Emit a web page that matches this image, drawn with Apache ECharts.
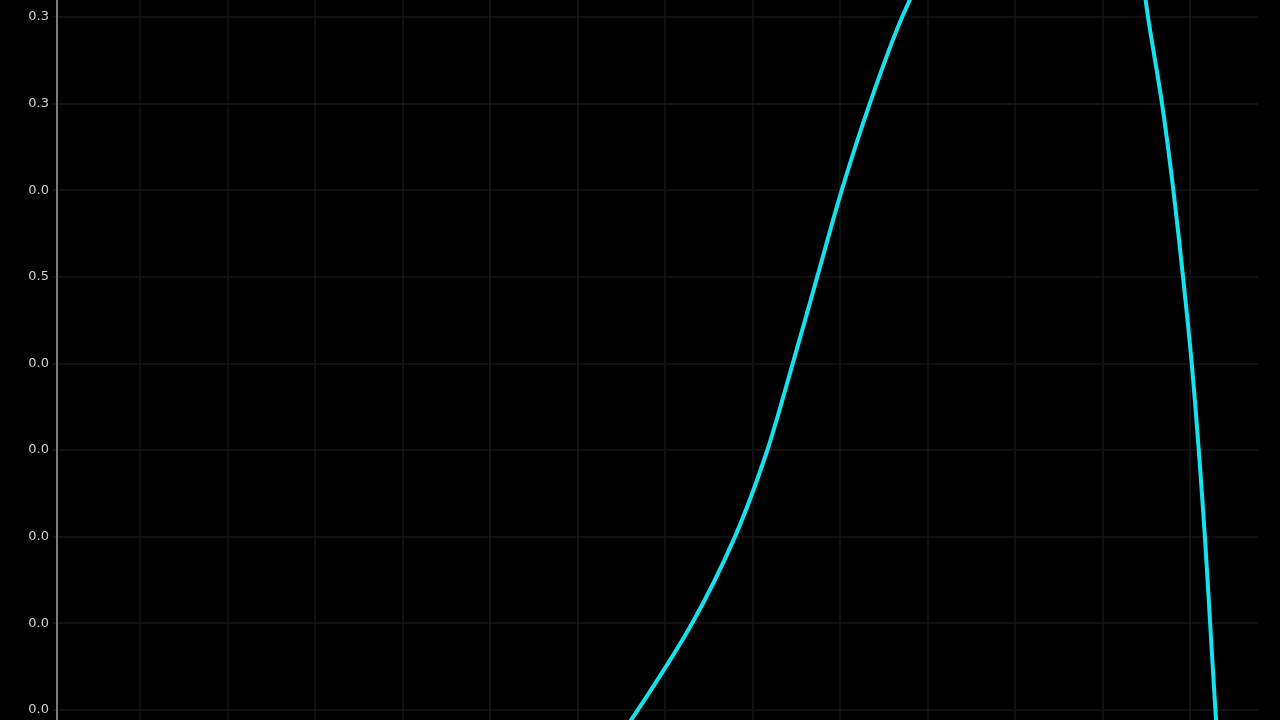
<!DOCTYPE html>
<html>
<head>
<meta charset="utf-8">
<script src="https://cdn.jsdelivr.net/npm/echarts@6/dist/echarts.min.js"></script>
<style>
html,body{margin:0;padding:0;background:#000;}
#chart{width:1280px;height:720px;}
</style>
</head>
<body>
<div id="chart"></div>
<script>
// x positions (axis units) and curve values (axis units)
const curveX = [6.0, 6.69, 7.31, 7.80, 8.17, 8.46, 8.74, 9.02, 9.34, 9.71, 10.2, 10.8, 11.5, 12.15, 12.38, 12.52, 12.68, 12.81, 12.92, 13.02, 13.10, 13.17, 13.23, 13.29, 13.36];
const curveY = [-1, 0, 1, 2, 3, 4, 5, 6, 7, 8, 9.0, 10.0, 10.6, 10.0, 9.0, 8, 7, 6, 5, 4, 3, 2, 1, 0, -1];
// y tick labels for tick values -1..9
const yTickValues = [-1, 0, 1, 2, 3, 4, 5, 6, 7, 8, 9];
const yTickLabels = ["0.0", "0.0", "0.0", "0.0", "0.0", "0.0", "0.5", "0.0", "0.3", "0.3", "0.3"];

const chart = echarts.init(document.getElementById('chart'));
chart.setOption({
  backgroundColor: '#000000',
  animation: false,
  grid: { left: 52.5, right: 22, top: -69.6, bottom: -76.4, containLabel: false, outerBoundsMode: 'none' },
  xAxis: {
    type: 'value', min: 0, max: 13.777, interval: 1,
    axisLine: { show: false }, axisTick: { show: false }, axisLabel: { show: false },
    splitLine: { show: true, showMinLine: false, showMaxLine: false, lineStyle: { color: '#161616', width: 1.5 } }
  },
  yAxis: {
    type: 'value', min: -1, max: 9, interval: 1, offset: -4.5,
    axisLine: { show: true, lineStyle: { color: '#7a7a7a', width: 2 } },
    axisTick: { show: false },
    axisLabel: {
      color: '#cfcfcf', fontSize: 13, fontFamily: 'DejaVu Sans', margin: 8,
      formatter: v => { const i = yTickValues.indexOf(Math.round(v)); return i >= 0 ? yTickLabels[i] : ''; }
    },
    splitLine: { show: true, showMinLine: false, showMaxLine: false, lineStyle: { color: '#161616', width: 1.5 } }
  },
  series: [{
    type: 'line',
    data: curveX.map((x, i) => [x, curveY[i]]),
    smooth: 0.3,
    showSymbol: false,
    clip: true,
    lineStyle: { color: '#14e3ee', width: 4 }
  }]
});
</script>
</body>
</html>
